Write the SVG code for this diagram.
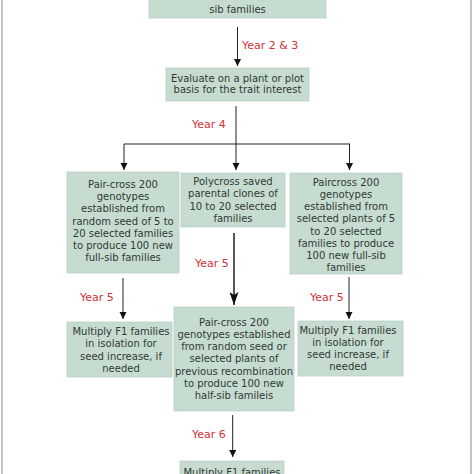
<svg xmlns="http://www.w3.org/2000/svg" width="474" height="474" viewBox="0 0 474 474">
<style>
.box{fill:#c7dcd0;stroke:#b9cfc3;stroke-width:0.8}
.t{font-family:"DejaVu Sans",Verdana,sans-serif;font-size:10px;fill:#2f3a35;text-anchor:middle}
.y{font-family:"DejaVu Sans",Verdana,sans-serif;font-size:11px;fill:#d03236}
.ln{stroke:#222;stroke-width:1;fill:none}
.lnb{stroke:#111;stroke-width:1.4;fill:none}
</style>
<defs>
<marker id="ah" markerWidth="7" markerHeight="8" refX="7" refY="3.5" orient="auto" markerUnits="userSpaceOnUse">
<path d="M0,0 L7,3.5 L0,7 Z" fill="#111"/>
</marker>
<marker id="ahb" markerWidth="13" markerHeight="9" refX="13" refY="4.5" orient="auto" markerUnits="userSpaceOnUse">
<path d="M0,0 L13,4.5 L0,9 L3,4.5 Z" fill="#111"/>
</marker>
</defs>
<rect x="0" y="0" width="474" height="474" fill="#fff"/>
<line x1="2" y1="0" x2="2" y2="474" stroke="#c4c4c4" stroke-width="2"/>
<line x1="471" y1="0" x2="471" y2="474" stroke="#c4c4c4" stroke-width="2"/>

<g id="connectors">
<line class="ln" x1="237.5" y1="27" x2="237.5" y2="66" marker-end="url(#ah)"/>
<polyline class="ln" points="236,106 236,144"/>
<polyline class="ln" points="124,144 350,144"/>
<line class="ln" x1="124" y1="144" x2="124" y2="170" marker-end="url(#ah)"/>
<line class="ln" x1="236" y1="144" x2="236" y2="170" marker-end="url(#ah)"/>
<line class="ln" x1="349.5" y1="144" x2="349.5" y2="170" marker-end="url(#ah)"/>
<line class="ln" x1="123" y1="278" x2="123" y2="319" marker-end="url(#ah)"/>
<line class="lnb" x1="234" y1="233" x2="234" y2="305" marker-end="url(#ahb)"/>
<line class="ln" x1="349" y1="277" x2="349" y2="319" marker-end="url(#ah)"/>
<line class="ln" x1="232.7" y1="415" x2="232.7" y2="457" marker-end="url(#ah)"/>
<text class="y" x="242" y="49">Year 2 &amp; 3</text>
<text class="y" x="192" y="128">Year 4</text>
<text class="y" x="80" y="301">Year 5</text>
<text class="y" x="195" y="267">Year 5</text>
<text class="y" x="310" y="301">Year 5</text>
<text class="y" x="192" y="438">Year 6</text>
</g>

<g id="n1">
<rect class="box" x="149" y="-10" width="177" height="28"/>
<text class="t" x="237.5" y="12.5">sib families</text>
</g>

<g id="n2">
<rect class="box" x="166" y="68" width="143" height="33"/>
<text class="t" x="237.5" y="81.5">Evaluate on a plant or plot</text>
<text class="t" x="237.5" y="93">basis for the trait interest</text>
</g>

<g id="n3a">
<rect class="box" x="67" y="172" width="112" height="101"/>
<text class="t" x="123" y="188">Pair-cross 200</text>
<text class="t" x="123" y="200.2">genotypes</text>
<text class="t" x="123" y="212.4">established from</text>
<text class="t" x="123" y="224.6">random seed of 5 to</text>
<text class="t" x="123" y="236.8">20 selected families</text>
<text class="t" x="123" y="249">to produce 100 new</text>
<text class="t" x="123" y="261.2">full-sib families</text>
</g>

<g id="n3b">
<rect class="box" x="181" y="173" width="104" height="54"/>
<text class="t" x="233" y="185.2">Polycross saved</text>
<text class="t" x="233" y="197.4">parental clones of</text>
<text class="t" x="233" y="209.6">10 to 20 selected</text>
<text class="t" x="233" y="221.6">families</text>
</g>

<g id="n3c">
<rect class="box" x="290" y="173" width="112" height="101"/>
<text class="t" x="346" y="185.5">Paircross 200</text>
<text class="t" x="346" y="197.7">genotypes</text>
<text class="t" x="346" y="210">established from</text>
<text class="t" x="346" y="222.2">selected plants of 5</text>
<text class="t" x="346" y="234.5">to 20 selected</text>
<text class="t" x="346" y="246.7">families to produce</text>
<text class="t" x="346" y="259">100 new full-sib</text>
<text class="t" x="346" y="271">families</text>
</g>

<g id="n4a">
<rect class="box" x="67" y="322" width="105" height="55"/>
<text class="t" x="121" y="335.2">Multiply F1 families</text>
<text class="t" x="121" y="347.4">in isolation for</text>
<text class="t" x="121" y="359.6">seed increase, if</text>
<text class="t" x="121" y="371.8">needed</text>
</g>

<g id="n4b">
<rect class="box" x="174" y="307" width="120" height="104"/>
<text class="t" x="234" y="325.8">Pair-cross 200</text>
<text class="t" x="234" y="338">genotypes established</text>
<text class="t" x="234" y="350.2">from random seed or</text>
<text class="t" x="234" y="362.4">selected plants of</text>
<text class="t" x="234" y="374.6">previous recombination</text>
<text class="t" x="234" y="386.8">to produce 100 new</text>
<text class="t" x="234" y="399">half-sib famileis</text>
</g>

<g id="n4c">
<rect class="box" x="298" y="321" width="105" height="55"/>
<text class="t" x="348" y="333.5">Multiply F1 families</text>
<text class="t" x="348" y="345.7">in isolation for</text>
<text class="t" x="348" y="357.9">seed increase, if</text>
<text class="t" x="348" y="370.1">needed</text>
</g>

<g id="n5">
<rect class="box" x="180" y="461" width="104" height="20"/>
<text class="t" x="232" y="475.5">Multiply F1 families</text>
</g>
</svg>
